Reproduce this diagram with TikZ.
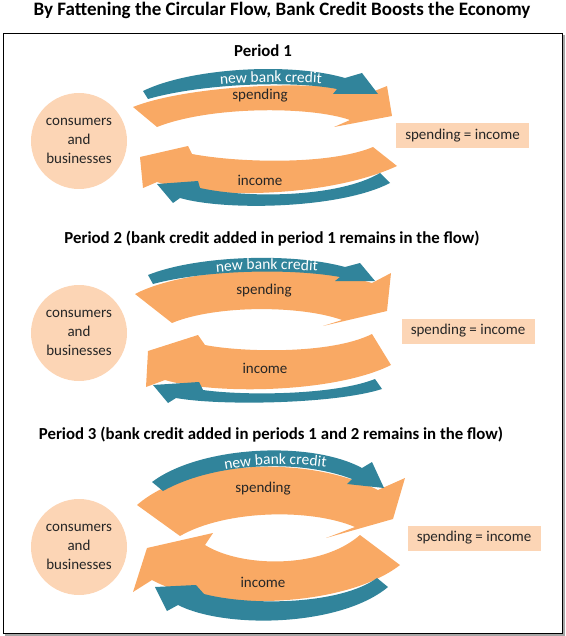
\documentclass[tikz,border=0pt]{standalone}
\usepackage{fontspec}
\setmainfont{Carlito}
\usetikzlibrary{decorations.text}
\definecolor{flowor}{HTML}{F9A964}
\definecolor{flowteal}{HTML}{31849B}
\definecolor{peach}{HTML}{FCD5B5}
\definecolor{inktext}{HTML}{262626}

\begin{document}
\begin{tikzpicture}[x=1pt, y=-1pt,
  agent/.style={circle, fill=peach, minimum size=96pt, inner sep=0pt, align=center, text=inktext, font=\fontsize{15}{19}\selectfont},
  eqbox/.style={fill=peach, minimum width=133pt, minimum height=25pt, inner sep=0pt, text=inktext, font=\fontsize{15}{18}\selectfont},
  ptitle/.style={anchor=base, font=\fontsize{16.8}{20}\selectfont\bfseries},
  flowlabel/.style={text=inktext, font=\fontsize{15}{18}\selectfont},
  orflow/.style={fill=flowor},
  tlflow/.style={fill=flowteal},
  credit/.style={decorate, decoration={text along path, text align=center, text color=white, text={|\fontsize{15.5}{18}\selectfont|new bank credit}}}]

    \useasboundingbox (0,0) rectangle (565,636);
    \node[anchor=base, font=\fontsize{19}{22}\selectfont\bfseries] (title) at (282,15.5) {By Fattening the Circular Flow, Bank Credit Boosts the Economy};
    \draw[gray!70, line width=1.5pt] (564,35) -- (564,635) -- (5,635);
    \draw[line width=0.8pt] (3,33) rectangle (562,633);

    \node[ptitle] (t1) at (263,56.5) {Period 1};
    \node[ptitle] (t2) at (272,243.5) {Period 2 (bank credit added in period 1 remains in the flow)};
    \node[ptitle] (t3) at (271,439) {Period 3 (bank credit added in periods 1 and 2 remains in the flow)};

    \node[agent] (cb1) at (79,141) {consumers\\and\\businesses};
    \node[agent] (cb2) at (79,333) {consumers\\and\\businesses};
    \node[agent] (cb3) at (79,547) {consumers\\and\\businesses};

    \node[eqbox] (eq1) at (462.5,135.5) {spending = income};
    \node[eqbox] (eq2) at (468,331) {spending = income};
    \node[eqbox] (eq3) at (474,538) {spending = income};

    \fill[orflow] (133,107) .. controls (180,88) and (300,78) .. (372,92) -- (387,86) -- (392,116) -- (334,127) -- (350,120) .. controls (310,106) and (210,106) .. (157,127) -- cycle;
    \fill[tlflow] (143,91) .. controls (190,68) and (290,62) .. (345,78) -- (362,73) -- (378,94) -- (333,94) -- (337,89) .. controls (290,80) and (200,84) .. (148,99) -- cycle;
    \fill[orflow] (373,147) .. controls (330,165) and (240,163) .. (192,154) -- (188,146) -- (140,157) -- (143,188) -- (157,182) .. controls (210,200) and (330,197) .. (397,166) -- cycle;
    \fill[tlflow] (380,173) .. controls (340,197) and (250,199) .. (200,188) -- (198,181) -- (157,184) -- (173,203) -- (180,198) .. controls (225,211) and (340,209) .. (390,183) -- cycle;

    \fill[orflow] (135,294) .. controls (185,268) and (300,262) .. (372,283) -- (391,273) -- (387,311) -- (323,326) -- (342,320) .. controls (300,305) and (215,305) .. (172,323) -- cycle;
    \fill[tlflow] (148,275) .. controls (195,256) and (290,252) .. (345,267) -- (360,263) -- (375,281) -- (335,281) -- (340,277) .. controls (290,268) and (205,270) .. (153,284) -- cycle;
    \fill[orflow] (372,334) .. controls (330,355) and (240,352) .. (205,345) -- (198,335) -- (148,351) -- (146,387) -- (165,380) .. controls (215,395) and (335,393) .. (391,365) -- cycle;
    \fill[tlflow] (375,379) .. controls (335,395) and (245,396) .. (203,390) -- (199,382) -- (153,385) -- (168,403) -- (176,398) .. controls (220,406) and (335,404) .. (382,389) -- cycle;

    \fill[orflow] (137,505) .. controls (185,463) and (300,452) .. (378,490) -- (405,478) -- (393,519) -- (326,538) -- (355,527) .. controls (310,508) and (225,510) .. (180,536) -- cycle;
    \fill[tlflow] (152,482) .. controls (200,446) and (310,440) .. (362,468) -- (372,462) -- (384,488) -- (347,484) -- (352,479) .. controls (300,459) and (215,462) .. (163,491) -- cycle;
    \fill[orflow] (360,535) .. controls (320,570) and (240,567) .. (205,545) -- (213,533) -- (147,548) -- (133,592) -- (152,580) .. controls (210,612) and (345,608) .. (400,565) -- cycle;
    \fill[tlflow] (377,578) .. controls (340,605) and (250,606) .. (204,594) -- (196,585) -- (155,587) -- (167,611) -- (178,605) .. controls (225,629) and (340,627) .. (388,587) -- cycle;

    \path[credit] (166,92) .. controls (221,79) and (321,79) .. (376,90);
    \path[credit] (162,281) .. controls (222,266) and (312,266) .. (372,279);
    \path[credit] (171,487) .. controls (231,458) and (321,458) .. (381,481);

    \node[flowlabel] (sp1) at (260,96) {spending};
    \node[flowlabel] (in1) at (260,180) {income};
    \node[flowlabel] (sp2) at (264,291) {spending};
    \node[flowlabel] (in2) at (265,368) {income};
    \node[flowlabel] (sp3) at (263,489) {spending};
    \node[flowlabel] (in3) at (263,582) {income};

\end{tikzpicture}
\end{document}
